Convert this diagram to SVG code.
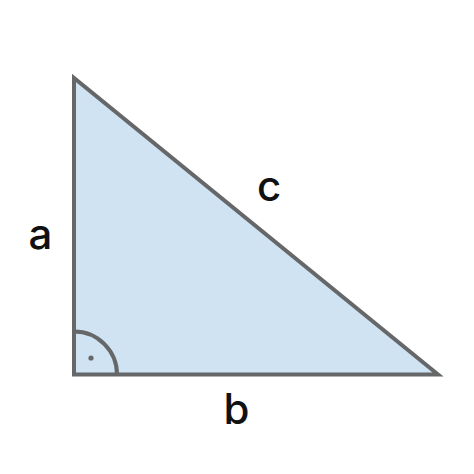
<svg xmlns="http://www.w3.org/2000/svg" width="474" height="474" viewBox="0 0 474 474">
<style>
.lbl{font-family:"Inter","Open Sans",sans-serif;font-size:42px;font-weight:500;fill:#111;text-anchor:middle}
.edge{stroke:#666769;stroke-width:4;fill:none}
</style>
<rect width="474" height="474" fill="#fff"/>
<g id="triangle">
<polygon points="74,78 74,374.5 438,374.5" fill="#cfe3f2" stroke="#666769" stroke-width="4" stroke-linejoin="miter" stroke-miterlimit="10"/>
</g>
<g id="right-angle">
<path class="edge" d="M74,331.5 A43,43 0 0 1 117,374.5"/>
<circle cx="91" cy="358" r="2.6" fill="#666769"/>
</g>
<g id="labels">
<text class="lbl" x="40.5" y="249">a</text>
<text class="lbl" x="236.5" y="424">b</text>
<text class="lbl" x="269" y="201">c</text>
</g>
</svg>
